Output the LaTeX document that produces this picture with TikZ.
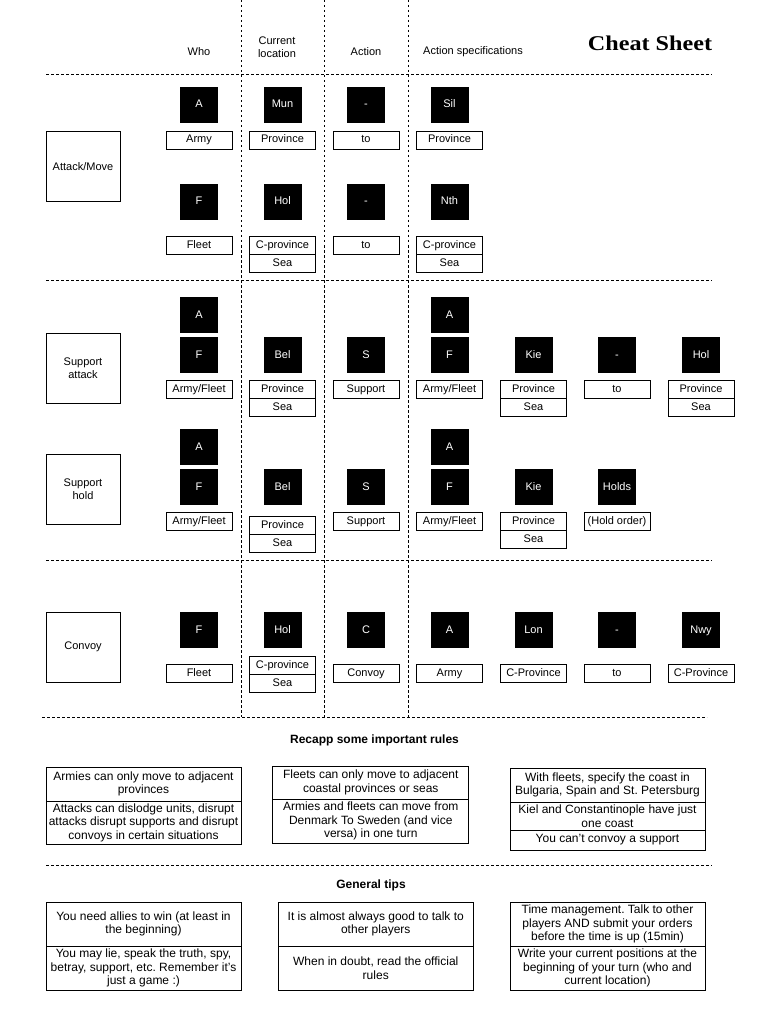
\documentclass[tikz,border=0pt]{standalone}
\usepackage{graphicx}
\usepackage{fontspec}
\setmainfont{Liberation Sans}
\newfontfamily\titlefont{Liberation Serif}
\frenchspacing
\begin{document}
\begin{tikzpicture}[x=1pt,y=-1pt,
  every node/.style={font=\fontsize{11}{13}\selectfont, inner sep=0pt},
  blk/.style={fill=black, text=white, minimum width=38pt, minimum height=36pt, text height=8pt, text depth=2pt},
  wbox/.style={draw=black, line width=0.8pt, fill=white, minimum width=66pt, minimum height=18pt, text height=8pt, text depth=2pt},
  catbox/.style={draw=black, line width=0.8pt, minimum width=74pt, minimum height=70pt, align=center},
  hdr/.style={align=center},
  rulebox/.style={draw=black, line width=0.8pt, align=center, font=\fontsize{12}{13.5}\selectfont},
  sectitle/.style={font=\bfseries\fontsize{12}{14}\selectfont},
  hsep/.style={line width=0.9pt, dash pattern=on 3pt off 2pt},
  vsep/.style={line width=0.9pt, dash pattern=on 2.5pt off 2.5pt}
]
\path[use as bounding box, fill=white] (0,0) rectangle (768,1024);

% separators
\draw[vsep] (241,0) -- (241,717);
\draw[vsep] (324,0) -- (324,717);
\draw[vsep] (408,0) -- (408,717);
\draw[hsep] (46,74) -- (712,74);
\draw[hsep] (46,280) -- (712,280);
\draw[hsep] (46,560) -- (712,560);
\draw[hsep] (42,717) -- (707,717);
\draw[hsep] (46,865) -- (712,865);

% header
\node (who) at (199,52) {Who};
\node[hdr] (loc) at (277,47.5) {Current\\location};
\node (act) at (366,52) {Action};
\node (spec) at (473,52) {Action specifications};
\node[font=\titlefont\bfseries\fontsize{21}{24}\selectfont] (title) at (650,43) {\scalebox{1.15}[1]{Cheat Sheet}};

% row 1 : attack / move
\node[catbox] (attack) at (83,166.5) {Attack/Move};
\node[blk] (a1) at (199,105) {A};
\node[blk] (mun) at (282.5,105) {Mun};
\node[blk] (mv1) at (366,105) {-};
\node[blk] (sil) at (449.5,105) {Sil};
\node[wbox] (army1) at (199,140) {Army};
\node[wbox] (prov1) at (282.5,140) {Province};
\node[wbox] (to1) at (366,140) {to};
\node[wbox] (prov1b) at (449.5,140) {Province};

\node[blk] (f1) at (199,202) {F};
\node[blk] (hol1) at (282.5,202) {Hol};
\node[blk] (mv2) at (366,202) {-};
\node[blk] (nth) at (449.5,202) {Nth};
\node[wbox] (fleet1) at (199,245) {Fleet};
\node[wbox] (cprov1) at (282.5,245) {C-province};
\node[wbox] (sea1) at (282.5,263) {Sea};
\node[wbox] (to2) at (366,245) {to};
\node[wbox] (cprov1b) at (449.5,245) {C-province};
\node[wbox] (sea1b) at (449.5,263) {Sea};

% row 2 : support attack
\node[catbox] (supatt) at (83,368) {Support\\attack};
\node[blk] (a2) at (199,315) {A};
\node[blk] (f2) at (199,355) {F};
\node[blk] (bel2) at (282.5,355) {Bel};
\node[blk] (s2) at (366,355) {S};
\node[blk] (a2b) at (449.5,315) {A};
\node[blk] (f2b) at (449.5,355) {F};
\node[blk] (kie2) at (533.5,355) {Kie};
\node[blk] (mv3) at (617,355) {-};
\node[blk] (hol2) at (701,355) {Hol};
\node[wbox] (af2) at (199,389.5) {Army/Fleet};
\node[wbox] (prov2) at (282.5,389.5) {Province};
\node[wbox] (sea2) at (282.5,407.5) {Sea};
\node[wbox] (sup2) at (366,389.5) {Support};
\node[wbox] (af2b) at (449.5,389.5) {Army/Fleet};
\node[wbox] (prov2b) at (533.5,389.5) {Province};
\node[wbox] (sea2b) at (533.5,407.5) {Sea};
\node[wbox] (to3) at (617,389.5) {to};
\node[wbox] (prov2c) at (701,389.5) {Province};
\node[wbox] (sea2c) at (701,407.5) {Sea};

% row 3 : support hold
\node[catbox] (suphold) at (83,489.5) {Support\\hold};
\node[blk] (a3) at (199,447) {A};
\node[blk] (f3) at (199,487) {F};
\node[blk] (bel3) at (282.5,487) {Bel};
\node[blk] (s3) at (366,487) {S};
\node[blk] (a3b) at (449.5,447) {A};
\node[blk] (f3b) at (449.5,487) {F};
\node[blk] (kie3) at (533.5,487) {Kie};
\node[blk] (holds) at (617,487) {Holds};
\node[wbox] (af3) at (199,521) {Army/Fleet};
\node[wbox] (prov3) at (282.5,525) {Province};
\node[wbox] (sea3) at (282.5,543) {Sea};
\node[wbox] (sup3) at (366,521) {Support};
\node[wbox] (af3b) at (449.5,521) {Army/Fleet};
\node[wbox] (prov3b) at (533.5,521) {Province};
\node[wbox] (sea3b) at (533.5,539) {Sea};
\node[wbox] (holdord) at (617,521) {(Hold order)};

% row 4 : convoy
\node[catbox] (convoy) at (83,647) {Convoy};
\node[blk] (f4) at (199,630) {F};
\node[blk] (hol4) at (282.5,630) {Hol};
\node[blk] (c4) at (366,630) {C};
\node[blk] (a4) at (449.5,630) {A};
\node[blk] (lon) at (533.5,630) {Lon};
\node[blk] (mv4) at (617,630) {-};
\node[blk] (nwy) at (701,630) {Nwy};
\node[wbox] (fleet4) at (199,673) {Fleet};
\node[wbox] (cprov4) at (282.5,665) {C-province};
\node[wbox] (sea4) at (282.5,683) {Sea};
\node[wbox] (conv4) at (366,673) {Convoy};
\node[wbox] (army4) at (449.5,673) {Army};
\node[wbox] (cprov4b) at (533.5,673) {C-Province};
\node[wbox] (to4) at (617,673) {to};
\node[wbox] (cprov4c) at (701,673) {C-Province};

% rules
\node[sectitle] (rtitle) at (374.5,740) {Recapp some important rules};
\node[rulebox, minimum width=195pt, minimum height=34pt] (r1a) at (143.5,784) {Armies can only move to adjacent\\provinces};
\node[rulebox, minimum width=195pt, minimum height=43pt] (r1b) at (143.5,822.5) {Attacks can dislodge units, disrupt\\attacks disrupt supports and disrupt\\convoys in certain situations};
\node[rulebox, minimum width=196pt, minimum height=33pt] (r2a) at (370.75,782.5) {Fleets can only move to adjacent\\coastal provinces or seas};
\node[rulebox, minimum width=196pt, minimum height=44pt] (r2b) at (370.75,821) {Armies and fleets can move from\\Denmark To Sweden (and vice\\versa) in one turn};
\node[rulebox, minimum width=195pt, minimum height=34pt] (r3a) at (607.5,785) {With fleets, specify the coast in\\Bulgaria, Spain and St. Petersburg};
\node[rulebox, minimum width=195pt, minimum height=28pt] (r3b) at (607.5,816) {Kiel and Constantinople have just\\one coast};
\node[rulebox, minimum width=195pt, minimum height=20pt] (r3c) at (607.5,840) {You can't convoy a support};

% tips
\node[sectitle] (ttitle) at (371,885) {General tips};
\node[rulebox, minimum width=195pt, minimum height=44pt] (t1a) at (143.5,924) {You need allies to win (at least in\\the beginning)};
\node[rulebox, minimum width=195pt, minimum height=44pt] (t1b) at (143.5,968) {You may lie, speak the truth, spy,\\betray, support, etc. Remember it's\\just a game :)};
\node[rulebox, minimum width=195.5pt, minimum height=44pt] (t2a) at (375.75,924) {It is almost always good to talk to\\other players};
\node[rulebox, minimum width=195.5pt, minimum height=44pt] (t2b) at (375.75,968) {When in doubt, read the official\\rules};
\node[rulebox, minimum width=195pt, minimum height=44pt] (t3a) at (607.5,924) {Time management. Talk to other\\players AND submit your orders\\before the time is up (15min)};
\node[rulebox, minimum width=195pt, minimum height=44pt] (t3b) at (607.5,968) {Write your current positions at the\\beginning of your turn (who and\\current location)};
\end{tikzpicture}
\end{document}
